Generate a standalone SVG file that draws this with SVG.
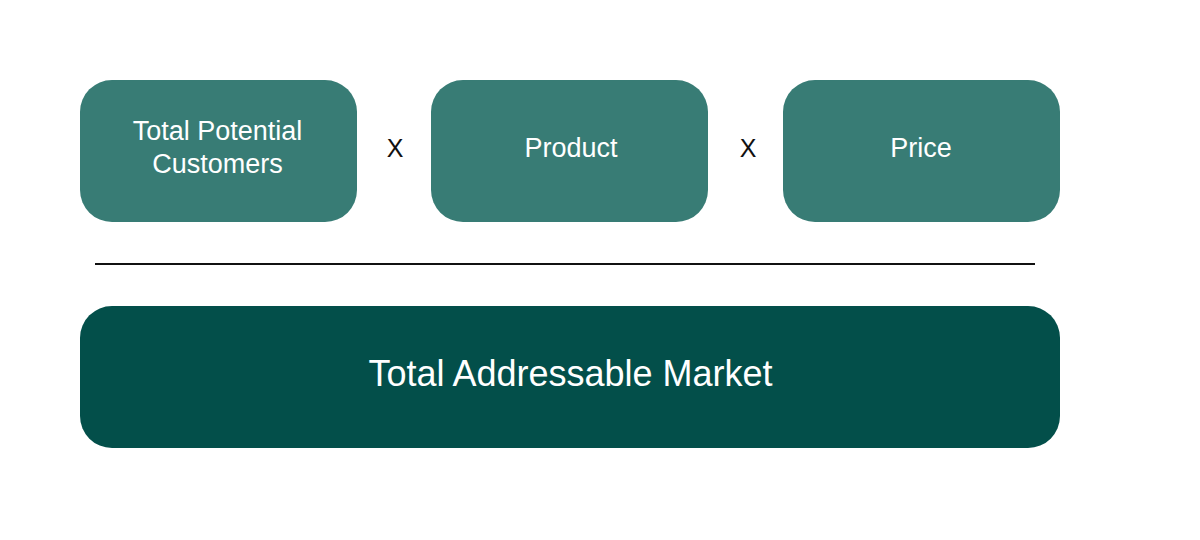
<svg xmlns="http://www.w3.org/2000/svg" width="1200" height="540" viewBox="0 0 1200 540">
<style>
.top{fill:#387c75}
.tam{fill:#034f4a}
.lbl{font-family:"Liberation Sans",Arial,sans-serif;fill:#ffffff;text-anchor:middle;font-size:27px}
.big{font-size:36px}
.op{font-family:"Liberation Sans",Arial,sans-serif;fill:#111111;text-anchor:middle;font-size:25px}
</style>
<rect width="1200" height="540" fill="#ffffff"/>
<g id="customers">
<rect class="top" x="80" y="80" width="277" height="142" rx="32"/>
<text class="lbl" x="217.5" y="140">Total Potential</text>
<text class="lbl" x="217.5" y="173">Customers</text>
</g>
<g id="product">
<rect class="top" x="431" y="80" width="277" height="142" rx="32"/>
<text class="lbl" x="571" y="157">Product</text>
</g>
<g id="price">
<rect class="top" x="783" y="80" width="277" height="142" rx="32"/>
<text class="lbl" x="921" y="157">Price</text>
</g>
<g id="operators">
<text class="op" x="395" y="157">X</text>
<text class="op" x="748" y="157">X</text>
</g>
<g id="connectors">
<line x1="95" y1="264" x2="1035" y2="264" stroke="#111111" stroke-width="2"/>
</g>
<g id="tam">
<rect class="tam" x="80" y="306" width="980" height="142" rx="32"/>
<text class="lbl big" x="570.5" y="386">Total Addressable Market</text>
</g>
</svg>
